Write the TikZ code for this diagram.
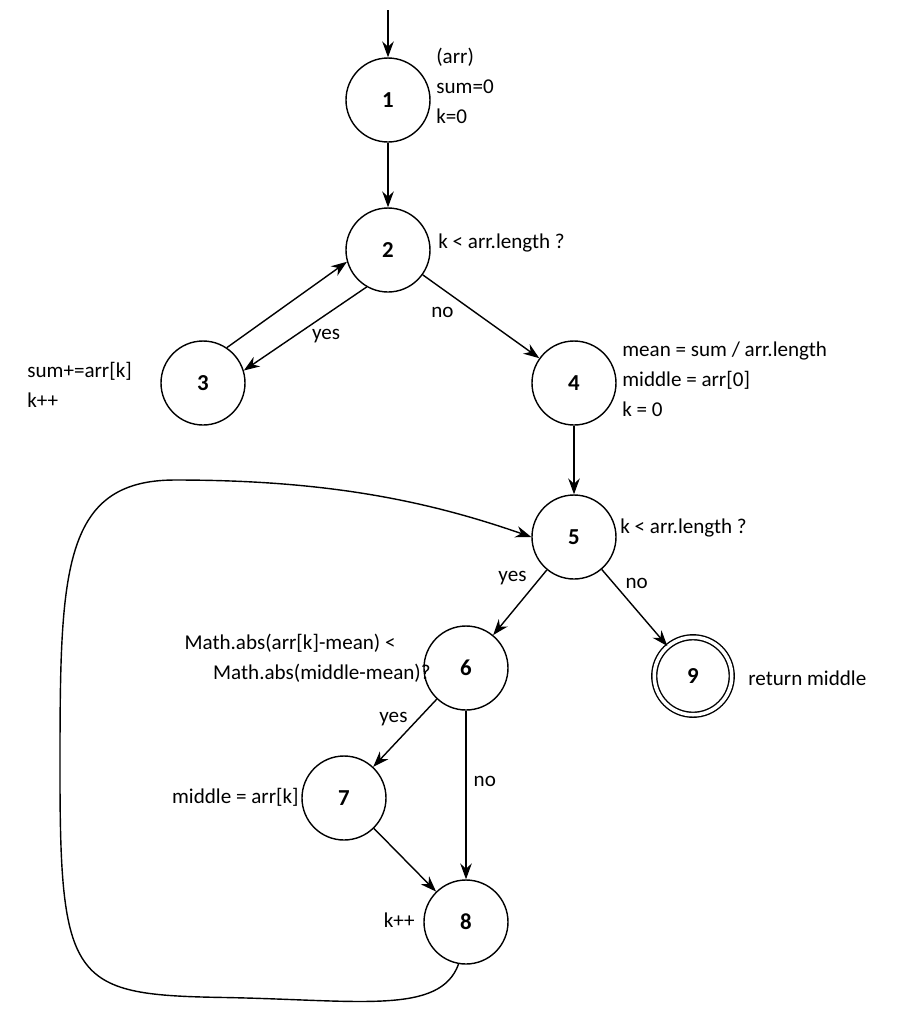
\documentclass[tikz,border=0pt]{standalone}
\usepackage{fontspec}
\setmainfont{Carlito}
\usetikzlibrary{arrows.meta,positioning}

\tikzset{
	state/.style={draw, circle, thick, minimum size=1.68cm, font=\fontsize{13}{15}\selectfont\bfseries},
	note/.style={font=\fontsize{12}{17}\selectfont, align=left, inner sep=0pt},
	flow/.style={thick, -{Stealth[length=9pt, angle'=40]}}
}

\begin{document}
\begin{tikzpicture}
	\useasboundingbox (0,0) rectangle (18.04,-20.48);
	% states
	\node[state] (n1) at (7.76,-2) {1};
	\node[state] (n2) at (7.76,-5) {2};
	\node[state] (n3) at (4.06,-7.66) {3};
	\node[state] (n4) at (11.48,-7.66) {4};
	\node[state] (n5) at (11.48,-10.74) {5};
	\node[state] (n6) at (9.32,-13.36) {6};
	\node[state, double, double distance=2pt, minimum size=1.55cm] (n9) at (13.86,-13.52) {9};
	\node[state] (n7) at (6.88,-15.96) {7};
	\node[state] (n8) at (9.32,-18.44) {8};
	\coordinate (start) at (7.76,-0.2);
	% notes
	\node[note, anchor=north west] (t1) at (8.72,-0.95) {(arr)\\sum=0\\k=0};
	\node[note, anchor=west] (t2) at (8.76,-4.86) {k < arr.length ?};
	\node[note, anchor=west] (t3) at (0.54,-7.7) {sum+=arr[k]\\k++};
	\node[note, anchor=west] (t4) at (12.44,-7.58) {mean = sum / arr.length\\middle = arr[0]\\k = 0};
	\node[note, anchor=west] (t5) at (12.4,-10.56) {k < arr.length ?};
	\node[note, anchor=east, align=right] (t6) at (8.62,-13.16) {Math.abs(arr[k]-mean) <\phantom{Mat}\\Math.abs(middle-mean)?};
	\node[note, anchor=west] (t9) at (14.96,-13.56) {return middle};
	\node[note, anchor=east] (t7) at (5.98,-15.94) {middle = arr[k]};
	\node[note, anchor=east] (t8) at (8.3,-18.4) {k++};
	% connectors
	\draw[flow] (start) -- (n1);
	\draw[flow] (n1) -- (n2);
	\draw[flow] (n3.56) -- (n2.196);
	\draw[flow] (n2.240) -- node[note, pos=0.45, below right=2pt and 0pt] {yes} (n3.17);
	\draw[flow] (n2) -- node[note, pos=0.3, below left=4pt and 2pt] {no} (n4);
	\draw[flow] (n4) -- (n5);
	\draw[flow] (n5) -- node[note, pos=0.3, above left=2pt and 2pt] {yes} (n6);
	\draw[flow] (n5) -- node[note, pos=0.3, above right=2pt and 2pt] {no} (n9);
	\draw[flow] (n6) -- node[note, pos=0.45, above left=2pt and 0pt] {yes} (n7);
	\draw[flow] (n6) -- node[note, pos=0.42, right=4pt] {no} (n8);
	\draw[flow] (n7) -- (n8);
	\draw[flow] (n8.260) .. controls (8.8,-20.3) and (7.2,-20.0) .. (4.5,-19.95)
		.. controls (1.5,-19.9) and (1.2,-19.7) .. (1.2,-15.5)
		.. controls (1.2,-11.5) and (1.2,-9.6) .. (3.5,-9.6)
		.. controls (6.5,-9.6) and (8.5,-10.0) .. (n5.west);
\end{tikzpicture}
\end{document}
